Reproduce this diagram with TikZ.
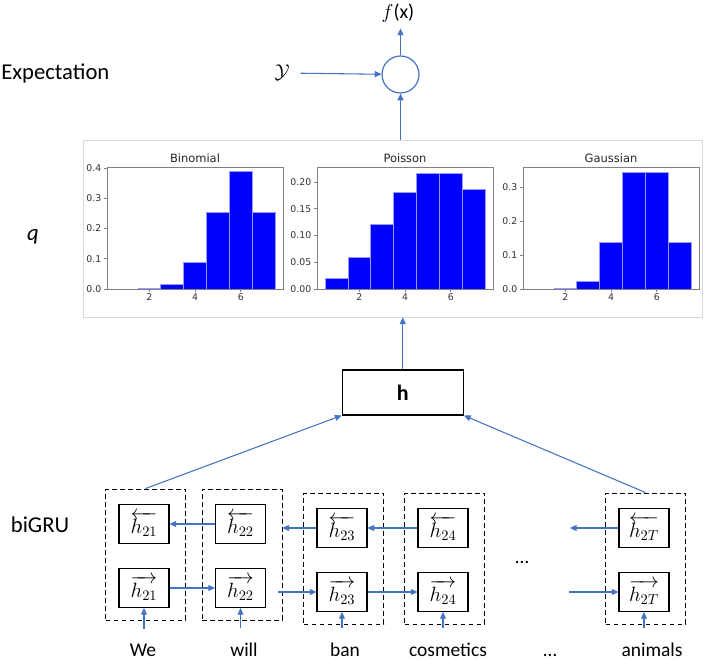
\RequirePackage{fix-cm}
\documentclass[tikz,border=0pt]{standalone}
\usepackage{amsmath}
\usepackage{amssymb}
\usepackage[no-math]{fontspec}
\setmainfont{Carlito}
\newfontfamily\mplfont{DejaVu Sans}
\usetikzlibrary{arrows.meta}

\begin{document}
\begin{tikzpicture}[x=0.75pt,y=0.75pt,yscale=-1,xscale=1,
  arr/.style={draw={rgb,255:red,68;green,114;blue,196},line width=0.8pt,-{Triangle[length=5pt,width=4.5pt]}},
  hcell/.style={draw,line width=0.8pt,minimum width=37.5pt,minimum height=29.25pt,inner sep=0pt,font=\fontsize{15.5}{17}\selectfont},
  grubox/.style={draw,dash pattern=on 3.5pt off 2.5pt,line width=0.7pt,minimum width=60pt,minimum height=98.25pt,inner sep=0pt},
  word/.style={anchor=base,inner sep=0pt,font=\fontsize{14.6}{17}\selectfont},
  rowlab/.style={anchor=base,inner sep=0pt,font=\fontsize{17}{20}\selectfont},
  bar/.style={fill={rgb,255:red,0;green,0;blue,255},draw=white!60!blue,line width=0.5pt},
  frame/.style={draw=black!50,line width=0.6pt},
  ticklab/.style={inner sep=0pt,font=\mplfont\fontsize{7}{8}\selectfont,text=black!80},
  plottitle/.style={anchor=base,inner sep=0pt,font=\mplfont\fontsize{8.6}{10}\selectfont,text=black!85}
]
\useasboundingbox (0,0) rectangle (705,659);

% Text Node
\node[rowlab,anchor=base west] (expl) at (1,80) {Expectation};
\node[rowlab] (qlab) at (33,240) {\textit{q}};
\node[rowlab] (grulab) at (40,532) {biGRU};

%Shape: Circle
\node[circle,draw={rgb,255:red,68;green,114;blue,196},line width=0.9pt,fill=white,minimum size=27.75pt,inner sep=0pt] (circ) at (400.5,74.5) {};
\node[font=\fontsize{15}{18}\selectfont,inner xsep=0pt,inner ysep=4.5pt] (fx) at (398,13) {$f$(x)};
\node[font=\fontsize{15}{18}\selectfont,inner sep=0pt,anchor=east] (Ylab) at (290,73) {$\mathcal{Y}$};

%Shape: Rectangle (distributions)
\node[draw=black!15,line width=0.6pt,fill=white,minimum width=464.25pt,minimum height=132.75pt,inner sep=0pt] (qpanel) at (392.5,228.5) {};

% histograms
\foreach \xl/\ttl/\ys/\vals/\yts in {
    107/Binomial/302.5/{0,0.002,0.017,0.088,0.252,0.388,0.252}/{0.0,0.1,0.2,0.3,0.4},
    317/Poisson/535/{0.02,0.06,0.12,0.18,0.217,0.217,0.187}/{0.00,0.05,0.10,0.15,0.20},
    523/Gaussian/340/{0,0.001,0.023,0.137,0.342,0.342,0.137}/{0.0,0.1,0.2,0.3}}
{
  \foreach \bv [count=\k] in \vals
    \filldraw[bar] ({\xl+(\k-0.65)*22.86},289) rectangle ({\xl+(\k+0.35)*22.86},{289-\bv*\ys});
  \draw[frame] (\xl,167) rectangle ({\xl+176},289);
  \foreach \yv in \yts {
    \draw[frame] ({\xl-3},{289-\yv*\ys}) -- (\xl,{289-\yv*\ys});
    \node[ticklab,anchor=east] at ({\xl-5.5},{289-\yv*\ys}) {\yv};
  }
  \foreach \xv in {2,4,6} {
    \draw[frame] ({\xl+(\xv-0.15)*22.86},289) -- ++(0,3);
    \node[ticklab,anchor=north] at ({\xl+(\xv-0.15)*22.86},293) {\xv};
  }
  \node[plottitle] at ({\xl+88},163) {\ttl};
}

%Shape: Rectangle (h)
\node[draw,line width=0.8pt,minimum width=91pt,minimum height=33.75pt,font=\bfseries\fontsize{16.5}{19}\selectfont] (hbox) at (402.75,392.5) {h};

% biGRU cells
\foreach \i/\cx/\cy/\sub/\wx/\wrd in {1/144/524/21/143/We, 2/240.5/524/22/244/will, 3/342/528/23/345/ban, 4/443/528/24/448/cosmetics, T/644/528/2T/652/animals}
{
  \node[grubox] (o\i) at ({\cx+1.5},{\cy+30.5}) {};
  \node[hcell] (b\i) at (\cx,\cy) {$\overleftarrow{h_{\sub}}$};
  \node[hcell] (f\i) at (\cx,{\cy+64}) {$\overrightarrow{h_{\sub}}$};
  \node[word] (w\i) at (\wx,656) {\wrd};
  \draw[arr,shorten <=11pt] (w\i.north -| f\i) -- (f\i);
}
\node[word] (wdots) at (550,656) {…};
\node[word,anchor=center] (cdots) at (522,562) {…};
\coordinate (bgap) at (570,528);
\coordinate (fgap) at (569,592);

%Straight Lines
\draw[arr] (b2) -- (b1);
\draw[arr] (b3) -- (b3 -| o2.east);
\draw[arr] (b4) -- (b3);
\draw[arr] (bT) -- (bgap);
\draw[arr] (f1) -- (f2);
\draw[arr] ([xshift=-3pt]f3 -| o2.east) -- (f3);
\draw[arr] (f3) -- (f4);
\draw[arr] (fgap) -- (fT);
\draw[arr] (o1.north) -- (hbox.south west);
\draw[arr] (oT.north) -- (hbox.south east);
\draw[arr] (hbox) -- (hbox |- qpanel.south);
\draw[arr] (circ |- qpanel.north) -- (circ);
\draw[arr] (circ) -- (circ |- fx.south);
\draw[arr,shorten <=8pt] (Ylab) -- (circ);

\end{tikzpicture}
\end{document}
